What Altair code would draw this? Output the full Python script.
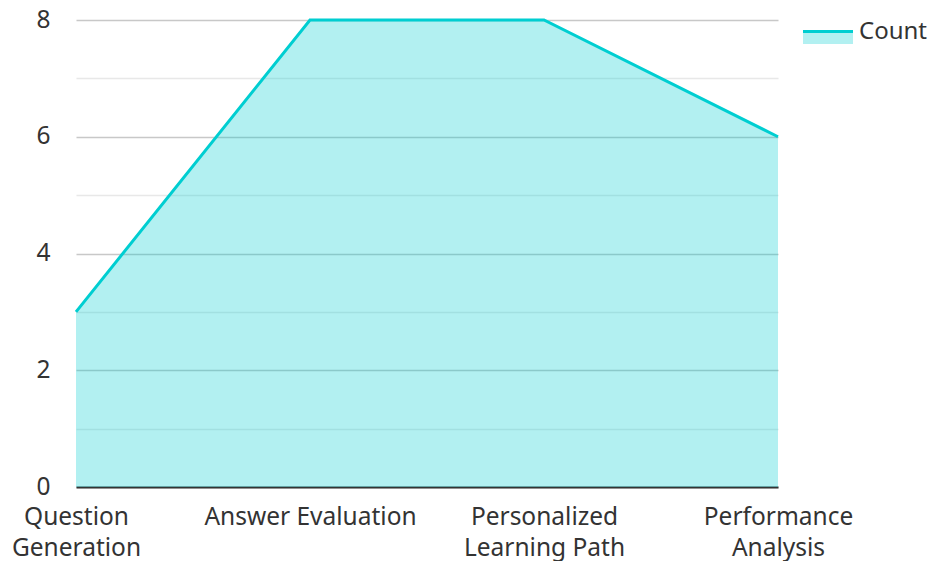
import altair as alt
import pandas as pd

categories = ["Question Generation", "Answer Evaluation", "Personalized Learning Path", "Performance Analysis"]
counts = [3, 8, 8, 6]
series_name = "Count"
label_lines = {
    "Question Generation": ["Question", "Generation"],
    "Answer Evaluation": ["Answer Evaluation"],
    "Personalized Learning Path": ["Personalized", "Learning Path"],
    "Performance Analysis": ["Performance", "Analysis"],
}
y_ticks = [0, 1, 2, 3, 4, 5, 6, 7, 8]

df = pd.DataFrame({"category": categories, "count": counts})

LINE = "#00CED1"
FONT = "Noto Sans"
TXT = "#333333"
FS = 24.5

expr_parts = []
for k, v in label_lines.items():
    arr = "[" + ",".join("'" + s + "'" for s in v) + "]"
    expr_parts.append(f"datum.label == '{k}' ? {arr} : ")
label_expr = "".join(expr_parts) + "datum.label"

x = alt.X(
    "category:N",
    sort=categories,
    scale=alt.Scale(type="point", padding=0),
    axis=alt.Axis(
        title=None,
        labelAngle=0,
        labelExpr=label_expr,
        labelFont=FONT,
        labelFontSize=FS,
        labelColor=TXT,
        labelLineHeight=31,
        labelBaseline="top",
        labelPadding=18,
        labelLimit=0,
        ticks=False,
        tickSize=0,
        domainColor="#333333",
        domainWidth=2,
        grid=False,
        labelOverlap=False,
    ),
)
y = alt.Y(
    "count:Q",
    scale=alt.Scale(domain=[0, 8], nice=False),
    axis=alt.Axis(
        title=None,
        values=y_ticks,
        labelExpr="datum.value % 2 == 0 ? datum.label : ''",
        labelFont=FONT,
        labelFontSize=FS,
        labelColor=TXT,
        labelPadding=26,
        ticks=False,
        tickSize=0,
        domain=False,
        grid=True,
        gridColor=alt.condition("datum.value % 2 == 0", alt.value("#c8c8c8"), alt.value("#e8e8e8")),
        gridWidth=1.5,
    ),
)

base = alt.Chart(df)
area = base.mark_area(color=LINE, opacity=0.3).encode(x=x, y=y)
line = base.mark_line(color=LINE, strokeWidth=3).encode(x=x, y=y)

leg_df = pd.DataFrame({"name": [series_name]})
leg_rect = alt.Chart(leg_df).mark_rect(color=LINE, opacity=0.3).encode(
    x=alt.value(727), x2=alt.value(777), y=alt.value(13), y2=alt.value(24)
)
leg_rule = alt.Chart(leg_df).mark_rule(color=LINE, strokeWidth=3).encode(
    x=alt.value(727), x2=alt.value(777), y=alt.value(11.5)
)
leg_text = alt.Chart(leg_df).mark_text(
    align="left", baseline="middle", font=FONT, fontSize=24, color=TXT
).encode(x=alt.value(783), y=alt.value(12), text="name:N")

chart = (
    alt.layer(area, line, leg_rect, leg_rule, leg_text)
    .properties(
        width=702,
        height=467,
        autosize=alt.AutoSizeParams(type="none"),
        padding={"left": 68, "top": 12, "right": 150, "bottom": 74},
    )
    .configure_view(stroke=None)
)

chart.save("out.html", embed_options={"renderer": "svg", "actions": False})
